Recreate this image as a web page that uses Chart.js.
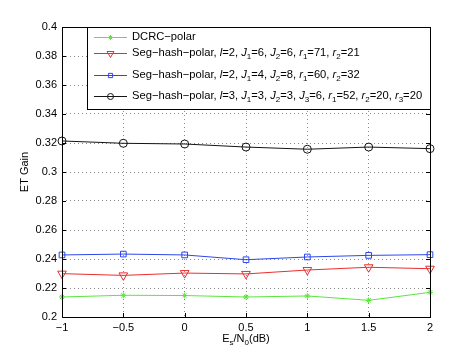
<!DOCTYPE html>
<html><head><meta charset="utf-8">
<script src="https://cdn.jsdelivr.net/npm/chart.js@4/dist/chart.umd.min.js"></script>
<style>html,body{margin:0;padding:0;background:#fff}#wrap{width:474px;height:356px}</style>
</head><body><div id="wrap"><canvas id="c" width="474" height="356"></canvas></div>
<script>
const xValues = [-1, -0.5, 0, 0.5, 1, 1.5, 2];
const dcrcPolar = [0.2138, 0.2150, 0.2148, 0.2138, 0.2145, 0.2115, 0.2170];
const segHash1 = [0.2299, 0.2287, 0.2303, 0.2297, 0.2324, 0.2343, 0.2333];
const segHash2 = [0.2428, 0.2434, 0.2428, 0.2395, 0.2414, 0.2425, 0.2430];
const segHash3 = [0.3214, 0.3198, 0.3193, 0.3172, 0.3157, 0.3172, 0.3161];
const yTickValues = [0.2, 0.22, 0.24, 0.26, 0.28, 0.3, 0.32, 0.34, 0.36, 0.38, 0.4];
const xTickValues = [-1, -0.5, 0, 0.5, 1, 1.5, 2];
// markup: *x* italic, _x_ subscript
const seriesLabels = [
  "DCRC\u2212polar",
  "Seg\u2212hash\u2212polar, *l*=2, *J*_1_=6, *J*_2_=6, *r*_1_=71, *r*_2_=21",
  "Seg\u2212hash\u2212polar, *l*=2, *J*_1_=4, *J*_2_=8, *r*_1_=60, *r*_2_=32",
  "Seg\u2212hash\u2212polar, *l*=3, *J*_1_=3, *J*_2_=3, *J*_3_=6, *r*_1_=52, *r*_2_=20, *r*_3_=20"
];
const xTitle = "E_s_/N_0_(dB)";
const yTitle = "ET Gain";

const FONT = '"Liberation Sans", Arial, sans-serif';

function parseRich(s) {
  const parts = [];
  let cur = '', mode = 'n';
  for (const ch of s) {
    if (ch === '*' || ch === '_') {
      if (cur) parts.push({t: cur, m: mode});
      cur = '';
      const m = ch === '*' ? 'i' : 's';
      mode = (mode === m) ? 'n' : m;
    } else cur += ch;
  }
  if (cur) parts.push({t: cur, m: mode});
  return parts;
}
function drawRich(ctx, s, x, y, size, align) {
  const parts = parseRich(s);
  const fontFor = m => m === 'i' ? `italic ${size}px ${FONT}` : m === 's' ? `${Math.round(size*0.72)}px ${FONT}` : `${size}px ${FONT}`;
  let w = 0;
  parts.forEach(p => { ctx.font = fontFor(p.m); w += ctx.measureText(p.t).width; });
  let cx = align === 'center' ? x - w / 2 : x;
  ctx.textAlign = 'left';
  ctx.textBaseline = 'middle';
  parts.forEach(p => {
    ctx.font = fontFor(p.m);
    ctx.fillText(p.t, cx, p.m === 's' ? y + size*0.35 : y);
    cx += ctx.measureText(p.t).width;
  });
}

const colors = ['rgb(90,230,60)', 'rgb(235,45,45)', 'rgb(45,70,235)', 'rgb(20,20,20)'];
const styles = [
  {ps: 'star', r: 3, rot: 0},
  {ps: 'triangle', r: 5, rot: 180},
  {ps: 'rect', r: 4, rot: 0},
  {ps: 'circle', r: 4, rot: 0}
];
const seriesData = [dcrcPolar, segHash1, segHash2, segHash3];

const datasets = seriesData.map((arr, i) => ({
  label: seriesLabels[i],
  data: xValues.map((x, k) => ({x: x, y: arr[k]})),
  borderColor: colors[i],
  backgroundColor: 'rgba(0,0,0,0)',
  pointBorderColor: colors[i],
  pointBackgroundColor: 'rgba(0,0,0,0)',
  pointStyle: styles[i].ps,
  pointRadius: styles[i].r,
  pointRotation: styles[i].rot,
  pointBorderWidth: 1,
  borderWidth: 1,
  tension: 0,
  clip: false
}));

const framePlugin = {
  id: 'frame',
  afterDraw(chart) {
    const ctx = chart.ctx, a = chart.chartArea;
    const xs = chart.scales.x, ys = chart.scales.y;
    ctx.save();
    ctx.strokeStyle = '#000';
    ctx.lineWidth = 1;
    ctx.setLineDash([]);
    // inward ticks
    ctx.beginPath();
    xTickValues.forEach(v => {
      const px = Math.round(xs.getPixelForValue(v)) + 0.5;
      ctx.moveTo(px, a.bottom); ctx.lineTo(px, a.bottom - 4);
      ctx.moveTo(px, a.top); ctx.lineTo(px, a.top + 4);
    });
    yTickValues.forEach(v => {
      const py = Math.round(ys.getPixelForValue(v)) + 0.5;
      ctx.moveTo(a.left, py); ctx.lineTo(a.left + 4, py);
      ctx.moveTo(a.right, py); ctx.lineTo(a.right - 4, py);
    });
    ctx.stroke();
    ctx.strokeRect(Math.round(a.left) + 0.5, Math.round(a.top) + 0.5, Math.round(a.right - a.left), Math.round(a.bottom - a.top));
    // titles
    ctx.fillStyle = '#000';
    drawRich(ctx, xTitle, (a.left + a.right) / 2, a.bottom + 22, 11, 'center');
    ctx.save();
    ctx.translate(25, (a.top + a.bottom) / 2);
    ctx.rotate(-Math.PI / 2);
    drawRich(ctx, yTitle, 0, 0, 11, 'center');
    ctx.restore();
    // legend
    const lx = 87, ly = Math.round(a.top) + 0.5, lw = Math.round(a.right) - 87, lh = 82;
    ctx.fillStyle = '#fff';
    ctx.fillRect(lx, ly, lw, lh);
    ctx.strokeStyle = '#000';
    ctx.strokeRect(lx + 0.5, ly, lw, lh);
    const rowY = [37, 53, 75, 96];
    const legR = [2.5, 4, 3, 3];
    chart.data.datasets.forEach((ds, i) => {
      const y = rowY[i];
      ctx.strokeStyle = ds.borderColor;
      ctx.lineWidth = 1;
      ctx.beginPath(); ctx.moveTo(94, y + 0.5); ctx.lineTo(127, y + 0.5); ctx.stroke();
      ctx.fillStyle = 'rgba(0,0,0,0)';
      Chart.helpers.drawPoint(ctx, {pointStyle: ds.pointStyle, rotation: ds.pointRotation, radius: legR[i], borderWidth: 1}, 110.5, y + 0.5);
      ctx.fillStyle = '#000';
      drawRich(ctx, ds.label, 132, y, 11.2, 'left');
    });
    ctx.restore();
  }
};

new Chart(document.getElementById('c'), {
  type: 'line',
  data: {datasets: datasets},
  options: {
    responsive: false,
    animation: false,
    devicePixelRatio: 1,
    layout: {padding: {left: 0, right: 44, top: 27, bottom: 0}},
    plugins: {legend: {display: false}, tooltip: {enabled: false}},
    scales: {
      x: {
        type: 'linear', min: -1, max: 2,
        afterFit(s) { s.height = 39; },
        afterBuildTicks(s) { s.ticks = xTickValues.map(v => ({value: v})); },
        ticks: {
          font: {family: FONT, size: 11}, color: '#000', padding: 4, maxRotation: 0,
          callback: v => String(v).replace('-', '\u2212')
        },
        grid: {color: 'rgba(0,0,0,0.45)', drawTicks: false, lineWidth: 1},
        border: {display: false, dash: [1, 3]}
      },
      y: {
        type: 'linear', min: 0.2, max: 0.4,
        afterFit(s) { s.width = 62; },
        afterBuildTicks(s) { s.ticks = yTickValues.map(v => ({value: v})); },
        ticks: {
          font: {family: FONT, size: 11}, color: '#000', padding: 5,
          callback: v => String(+(+v).toFixed(2))
        },
        grid: {color: 'rgba(0,0,0,0.45)', drawTicks: false, lineWidth: 1},
        border: {display: false, dash: [1, 3]}
      }
    }
  },
  plugins: [framePlugin]
});
</script>
</body></html>
